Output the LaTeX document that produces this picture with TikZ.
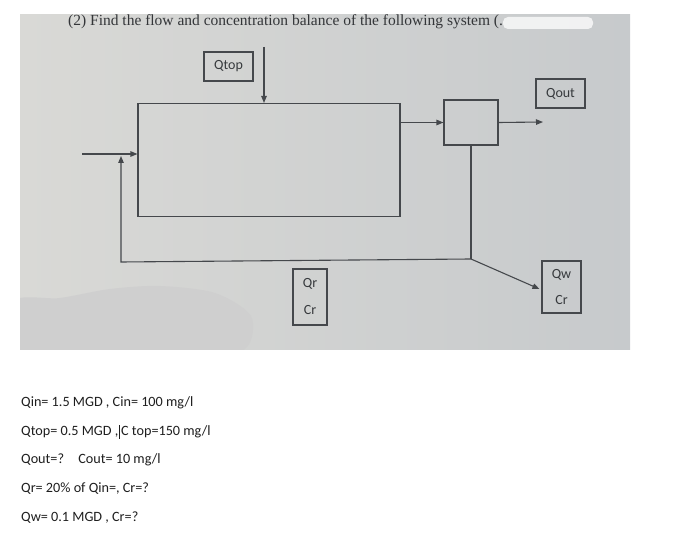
\documentclass[tikz,border=0pt]{standalone}
\usepackage{fontspec}
\setmainfont{Liberation Serif}
\setsansfont{Carlito}
\usetikzlibrary{arrows.meta,positioning,calc}
\definecolor{Ink}{HTML}{45484C}
\definecolor{Paper}{HTML}{D9D9D6}
\definecolor{PaperDark}{HTML}{C7CACC}
\definecolor{Smudge}{HTML}{CFCFCF}
\definecolor{Typed}{HTML}{1E1E1E}
\newcommand{\DataLine}[3]{%
  \node[anchor=base west,font=\sffamily\fontsize{14.2}{17}\selectfont,text=Typed,inner sep=0pt] (#1) at (21,#2) {#3};%
}

\begin{document}
\begin{tikzpicture}[x=1pt,y=-1pt,
  pipe/.style={draw=Ink,line width=1.1pt},
  flow/.style={pipe,-{Triangle[length=7pt,width=5.5pt]}},
  box/.style={pipe,inner sep=0pt},
  tag/.style={box,font=\sffamily\fontsize{14}{15}\selectfont,text=Ink!80!black}]
\useasboundingbox (0,0) rectangle (673,545);
% the photographed sheet
\shade[left color=Paper,right color=PaperDark] (20,15) rectangle (630,350);
\begin{scope}
  \clip (20,15) rectangle (630,350);
  \fill[Smudge] plot[smooth cycle] coordinates {(12,302) (60,298) (110,289) (160,286) (215,293) (251,316) (246,348) (200,362) (12,362)};
\end{scope}
\fill[white,opacity=0.75,rounded corners=5pt] (503,17) rectangle (593,29);
\node[anchor=base west,font=\fontsize{15.5}{17}\selectfont,text=Ink!75!black,inner sep=0pt] (title) at (68,26)
  {(2) Find the flow and concentration balance of the following system (.};
% units
\node[box,minimum width=262pt,minimum height=113pt] (tank) at (269,160) {};
\node[box,minimum width=54pt,minimum height=45pt] (clar) at (471,122.5) {};
\node[tag,minimum width=49pt,minimum height=29pt] (qtop) at (228.5,66.5) {Qtop};
\node[tag,minimum width=49pt,minimum height=29pt] (qout) at (560.5,93.5) {Qout};
\node[tag,minimum width=39pt,minimum height=52pt,align=center] (qw) at (561.5,287) {Qw\\[11pt]Cr};
\node[tag,minimum width=34pt,minimum height=56pt,align=center] (qr) at (310,297) {Qr\\[12pt]Cr};
% flows
\coordinate (feed) at (82,154);
\coordinate (topin) at (264,47);
\coordinate (eff) at (543,122);
\coordinate (split) at (471,259);
\coordinate (back) at (121,262);
\draw[flow] (feed) -- (feed -| tank.west);
\draw[flow] (topin) -- (topin |- tank.north);
\draw[flow] (clar.west -| tank.east) -- (clar.west);
\draw[flow] (clar.east) -- (eff);
\draw[pipe] (clar.south) -- (split);
\draw[flow] (split) -- (back) -- ($(back |- feed)+(0,2)$);
\draw[flow] (split) -- ($(qw.west)+(-2,2)$);
% given data
\DataLine{given1}{407}{Qin= 1.5 MGD , Cin= 100 mg/l}
\DataLine{given2}{436}{Qtop= 0.5 MGD ,\hspace{1pt}\rule[-3pt]{0.8pt}{14pt}\hspace{1pt}C top=150 mg/l}
\DataLine{given3}{464}{Qout=?\quad Cout= 10 mg/l}
\DataLine{given4}{493}{Qr= 20\% of Qin=, Cr=?}
\DataLine{given5}{522}{Qw= 0.1 MGD , Cr=?}
\end{tikzpicture}
\end{document}
